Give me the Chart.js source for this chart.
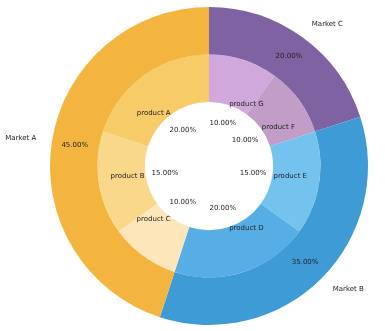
<!DOCTYPE html>
<html>
<head>
<meta charset="utf-8">
<script src="https://cdn.jsdelivr.net/npm/chart.js@4/dist/chart.umd.min.js"></script>
<style>
  html, body { margin: 0; padding: 0; background: #fff; }
  #wrap { width: 390px; height: 331px; }
</style>
</head>
<body>
<div id="wrap"><canvas id="chart"></canvas></div>
<script>
// order = clockwise from 12 o'clock
const marketLabels = ["Market C", "Market B", "Market A"];
const marketValues = [20, 35, 45];
const marketColors = ["#7f62a1", "#3f9bd6", "#f4b540"];

const productLabels = ["product G", "product F", "product E", "product D", "product C", "product B", "product A"];
const productValues = [10, 10, 15, 20, 10, 15, 20];
const productColors = ["#d0a8dc", "#c19dc8", "#74c2ee", "#57aee4", "#fde7ba", "#f9d88c", "#f8cb69"];

// draws the text labels next to each arc, like matplotlib pie labels
const pieLabels = {
  id: "pieLabels",
  afterDatasetsDraw(chart) {
    const ctx = chart.ctx;
    ctx.save();
    ctx.font = "7px 'DejaVu Sans'";
    ctx.fillStyle = "#222";
    ctx.textBaseline = "middle";
    chart.data.datasets.forEach((ds, di) => {
      const meta = chart.getDatasetMeta(di);
      const total = ds.data.reduce((a, b) => a + b, 0);
      meta.data.forEach((arc, i) => {
        const p = arc.getProps(["x", "y", "startAngle", "endAngle", "outerRadius"], true);
        const mid = (p.startAngle + p.endAngle) / 2;
        const c = Math.cos(mid), s = Math.sin(mid);
        const lr = p.outerRadius * ds.labelDist;
        const pr = p.outerRadius * ds.pctDist;
        ctx.textAlign = c > 0 ? "left" : "right";
        ctx.fillText(ds.names[i], p.x + c * lr, p.y + s * lr);
        ctx.textAlign = "center";
        ctx.fillText((ds.data[i] / total * 100).toFixed(2) + "%", p.x + c * pr, p.y + s * pr);
      });
    });
    ctx.restore();
  }
};

new Chart(document.getElementById("chart"), {
  type: "doughnut",
  data: {
    datasets: [
      {
        data: marketValues,
        names: marketLabels,
        backgroundColor: marketColors,
        borderWidth: 0,
        labelDist: 1.1,
        pctDist: 0.855
      },
      {
        data: productValues,
        names: productLabels,
        backgroundColor: productColors,
        borderWidth: 0,
        labelDist: 0.585,
        pctDist: 0.4
      }
    ]
  },
  options: {
    responsive: true,
    maintainAspectRatio: false,
    animation: false,
    cutout: "40.3%",
    layout: { padding: { left: 50, right: 22, top: 7, bottom: 6 } },
    plugins: {
      legend: { display: false },
      tooltip: { enabled: false }
    }
  },
  plugins: [pieLabels]
});
</script>
</body>
</html>
